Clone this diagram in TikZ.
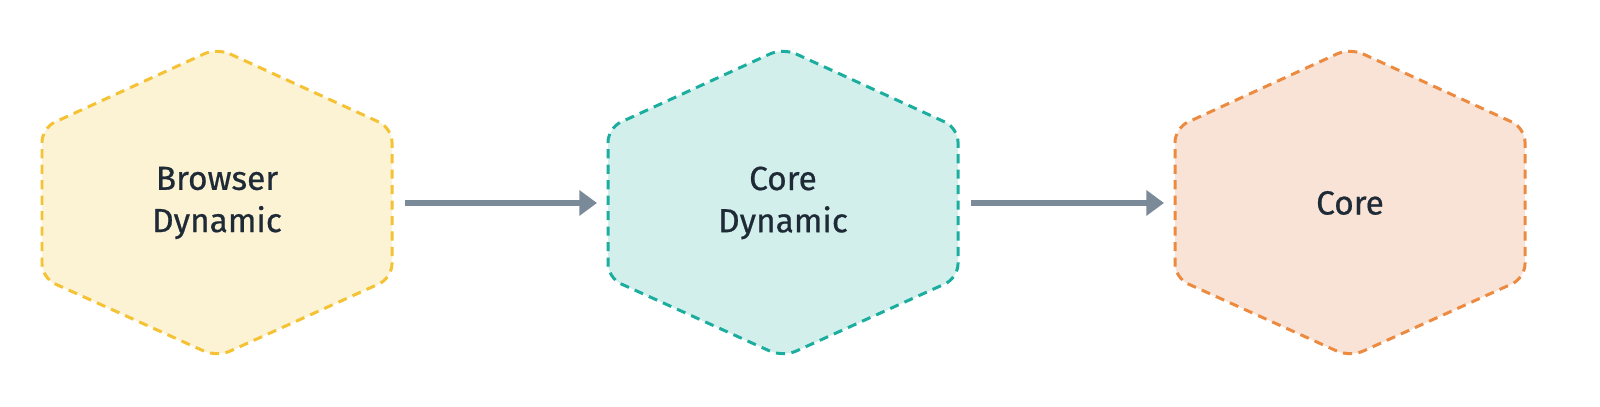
\documentclass[tikz,border=0pt]{standalone}
\usepackage{fontspec}
\setmainfont{Fira Sans}
\usetikzlibrary{arrows.meta}
\definecolor{yelline}{HTML}{F4C233}
\definecolor{yelfill}{HTML}{FCF2D4}
\definecolor{tealline}{HTML}{1BAE9F}
\definecolor{tealfill}{HTML}{D2EFEC}
\definecolor{orgline}{HTML}{EC8A3F}
\definecolor{orgfill}{HTML}{F8E3D6}
\definecolor{arrowgray}{HTML}{7A8A99}
\definecolor{textdark}{HTML}{1E2A36}
\begin{document}
\begin{tikzpicture}
[x=0.01cm,y=-0.01cm,
hexa/.style={line width=0.85pt,dash pattern=on 2.6pt off 1.8pt,rounded corners=4pt},
hexlabel/.style={text=textdark,font=\fontsize{9.5}{12}\selectfont\addfontfeatures{FakeBold=0.6},align=center},
link/.style={draw=arrowgray,line width=1.5pt,-{Triangle[length=5pt,width=7pt]},shorten <=0.13cm,shorten >=0.11cm}]
\useasboundingbox (0,0) rectangle (1600,407);
\foreach \cx / \name / \ln / \fl / \txt in {217/browser/yelline/yelfill/{Browser\\Dynamic},783/coredyn/tealline/tealfill/{Core\\Dynamic},1350/core/orgline/orgfill/{Core}}
{
	\draw[hexa,draw=\ln,fill=\fl,shift={(\cx,203)}] (0,-155) -- (175,-75) -- (175,75) -- (0,154) -- (-175,75) -- (-175,-75) -- cycle;
	\coordinate (\name-l) at (\cx-175,203);
	\coordinate (\name-r) at (\cx+175,203);
	\node[hexlabel] (\name) at (\cx,203) {\txt};
}
\draw[link] (browser-r) -- (coredyn-l);
\draw[link] (coredyn-r) -- (core-l);
\end{tikzpicture}
\end{document}
